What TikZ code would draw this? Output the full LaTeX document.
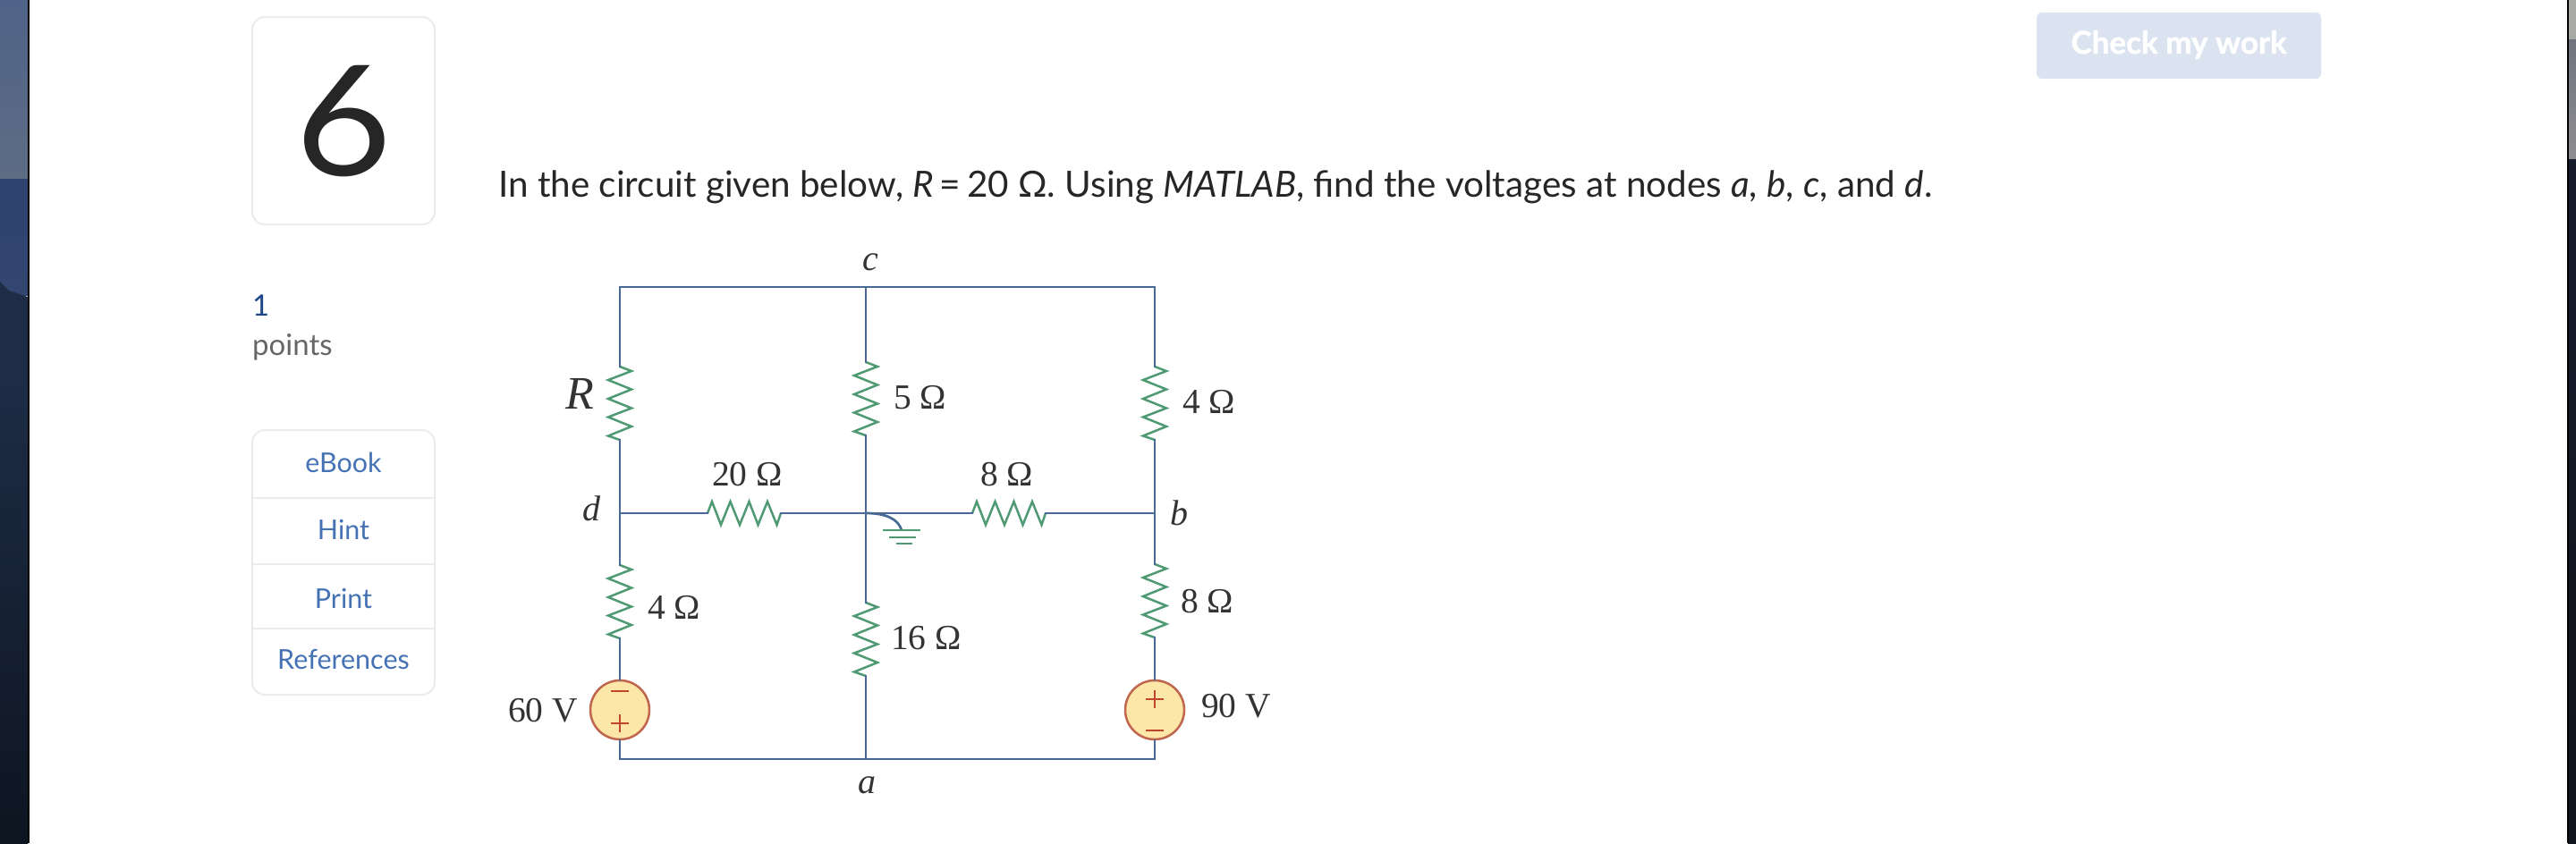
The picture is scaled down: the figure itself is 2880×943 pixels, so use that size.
\documentclass[tikz,border=0pt]{standalone}
\usepackage{graphicx}
\usepackage{fontspec}
\setmainfont{Lato}
\newfontfamily\circfont{Liberation Serif}
\definecolor{wirecol}{HTML}{4A6A96}
\definecolor{rescol}{HTML}{4F9A72}
\definecolor{srcfill}{HTML}{FCE6A8}
\definecolor{srcline}{HTML}{C0664C}
\definecolor{signcol}{HTML}{C0452F}
\definecolor{txtcol}{HTML}{333333}
\definecolor{panelline}{HTML}{EBEBEB}
\definecolor{linkcol}{HTML}{4472B4}
\definecolor{btnfill}{HTML}{DAE3EF}
\definecolor{ptval}{HTML}{1F4788}
\definecolor{ptlab}{HTML}{666666}
\definecolor{inktxt}{HTML}{262626}
\definecolor{skyA}{HTML}{4F6388}
\definecolor{skyB}{HTML}{5E6C84}
\definecolor{hillA}{HTML}{2F4370}
\definecolor{hillB}{HTML}{324670}
\definecolor{hillC}{HTML}{1E2C46}
\definecolor{hillD}{HTML}{0D1520}
\definecolor{rskyA}{HTML}{A8A8A6}
\definecolor{rmtA}{HTML}{70727E}
\definecolor{rmtB}{HTML}{8E8E90}
\definecolor{rdkA}{HTML}{171C2C}
\definecolor{rdkB}{HTML}{10141C}
\tikzset{
  wire/.style={draw=wirecol,line width=2.7pt,line cap=rect},
  resline/.style={draw=rescol,line width=2.5pt,line join=miter},
  srcnode/.style={circle,draw=srcline,line width=2.5pt,fill=srcfill,minimum size=66pt,inner sep=0pt},
  signline/.style={draw=signcol,line width=2.5pt},
  gndline/.style={draw=rescol,line width=2.8pt},
  clabel/.style={anchor=base west,inner sep=0pt,text=txtcol,font=\circfont\fontsize{39.5}{42}\selectfont},
  nlabel/.style={anchor=base,inner sep=0pt,text=txtcol,font=\circfont\itshape\fontsize{40}{42}\selectfont},
  sidelink/.style={anchor=center,inner sep=0pt,text=linkcol,font=\fontsize{30.5}{34}\selectfont},
  panel/.style={draw=panelline,line width=2pt,fill=white},
}
\newcommand\Res[4]{%
  \begin{scope}[shift={(#2,#3)},rotate=#4]
    \coordinate (#1-a) at (0,-41);
    \coordinate (#1-b) at (0,41);
    \draw[resline] (#1-a) -- (13,-36) -- (-13,-26) -- (13,-15.5) -- (-13,-5) -- (13,5.5) -- (-13,15.5) -- (13,26) -- (-13,36.5) -- (#1-b);
  \end{scope}}
\begin{document}
\begin{tikzpicture}[x=1pt,y=-1pt]
\useasboundingbox (0,0) rectangle (2880,943);
\fill[white] (0,0) rectangle (2880,943);
% window edges
\shade[top color=skyA,bottom color=skyB] (0,0) rectangle (31,202);
\shade[top color=hillA,bottom color=hillB] (0,200) rectangle (31,330);
\fill[hillC] (0,315) -- (10,325) -- (31,332) -- (31,420) -- (0,420) -- cycle;
\shade[top color=hillC,bottom color=hillD] (0,420) rectangle (31,943);
\fill[black] (31,0) rectangle (32.5,943);
\fill[rskyA] (2871,0) rectangle (2880,46);
\shade[top color=rmtA,bottom color=rmtB] (2871,44) rectangle (2880,180);
\shade[top color=rdkA,bottom color=rdkB] (2871,178) rectangle (2880,943);
\fill[black] (2870,0) rectangle (2871.5,943);
% question number
\draw[panel,rounded corners=14pt] (282,19) rectangle (486,251);
\node[inner sep=0pt,text=inktxt] (qnum) at (384,136) {\scalebox{1.08}[1]{\fontsize{172}{172}\selectfont 6}};
% points
\node[anchor=base west,inner sep=0pt,text=ptval] (pval) at (282,353) {\fontsize{33}{36}\selectfont 1};
\node[anchor=base west,inner sep=0pt,text=ptlab] (plab) at (282,397) {\fontsize{33}{36}\selectfont points};
% side panel
\draw[panel,rounded corners=14pt] (282,481) -- (486,481) -- (486,777) -- (282,777) -- cycle;
\draw[panelline,line width=2pt] (282,557) -- (486,557) (282,631) -- (486,631) (282,703) -- (486,703);
\node[sidelink] (ebook) at (384,517) {eBook};
\node[sidelink] (hint) at (384,592) {Hint};
\node[sidelink] (print) at (384,669) {Print};
\node[sidelink] (refs) at (384,738) {References};
% button
\fill[fill=btnfill,rounded corners=6pt] (2277,14) rectangle (2595,88);
\node[anchor=base,inner sep=0pt,text=white] (check) at (2436,60) {\fontsize{35}{38}\bfseries\selectfont\addfontfeatures{FakeBold=1.2}Check my work};
% question
\node[anchor=base west,inner sep=0pt,text=inktxt] (q) at (557,220) {\fontsize{40.4}{44}\selectfont In the circuit given below, \textit{R}\,=\,20 Ω. Using \textit{MATLAB}, find the voltages at nodes \textit{a}, \textit{b}, \textit{c}, and \textit{d}.};
% circuit
\coordinate (tl) at (693,321);
\coordinate (c) at (968,321);
\coordinate (tr) at (1291,321);
\coordinate (d) at (693,574);
\coordinate (o) at (968,574);
\coordinate (b) at (1291,574);
\coordinate (bl) at (693,849);
\coordinate (a) at (968,849);
\coordinate (br) at (1291,849);
\Res{rR}{693}{451}{0}
\Res{rF}{968}{446}{0}
\Res{rFr}{1291}{451}{0}
\Res{rFl}{693}{673}{0}
\Res{rS}{968}{715}{0}
\Res{rEr}{1291}{672}{0}
\Res{rT}{832}{574}{90}
\Res{rEt}{1128}{574}{90}
\node[srcnode] (vl) at (693,794) {};
\node[srcnode] (vr) at (1291,794) {};
\draw[wire] (rR-a) -- (tl) -- (tr) -- (rFr-a);
\draw[wire] (c) -- (rF-a);
\draw[wire] (rF-b) -- (o) -- (rS-a);
\draw[wire] (rS-b) -- (a);
\draw[wire] (rR-b) -- (d) -- (rFl-a);
\draw[wire] (rFl-b) -- (vl);
\draw[wire] (vl) -- (bl) -- (br) -- (vr);
\draw[wire] (rFr-b) -- (b) -- (rEr-a);
\draw[wire] (rEr-b) -- (vr);
\draw[wire] (d) -- (rT-a);
\draw[wire] (rT-b) -- (o);
\draw[wire] (o) -- (rEt-a);
\draw[wire] (rEt-b) -- (b);
% source signs
\draw[signline] (683,773) -- (703,773);
\draw[signline] (683,809) -- (703,809) (693,799) -- (693,819);
\draw[signline] (1281,782) -- (1301,782) (1291,772) -- (1291,792);
\draw[signline] (1281,817) -- (1301,817);
% ground
\coordinate (g) at (1008,593);
\draw[wire,line cap=butt] (o) .. controls (990,574) and (1004,580) .. (g);
\draw[gndline] (987,593) -- (1029,593) (994,601) -- (1024,601) (1002,608) -- (1020,608);
% labels
\node[anchor=base west,inner sep=0pt,text=txtcol,font=\circfont\itshape\fontsize{52}{54}\selectfont] (lR) at (632,457) {R};
\node[clabel] (l20) at (796,543) {20 Ω};
\node[clabel] (l5) at (999,457) {5 Ω};
\node[clabel] (l4a) at (1322,462) {4 Ω};
\node[clabel] (l8a) at (1096,543) {8 Ω};
\node[clabel] (l4b) at (724,692) {4 Ω};
\node[clabel] (l16) at (996,726) {16 Ω};
\node[clabel] (l8b) at (1320,685) {8 Ω};
\node[clabel] (l60) at (568,807) {60 V};
\node[clabel] (l90) at (1343,802) {90 V};
\node[nlabel] (nc) at (973,302) {c};
\node[nlabel] (nd) at (661,582) {d};
\node[nlabel] (nb) at (1318,587) {b};
\node[nlabel] (na) at (969,887) {a};
\end{tikzpicture}
\end{document}
